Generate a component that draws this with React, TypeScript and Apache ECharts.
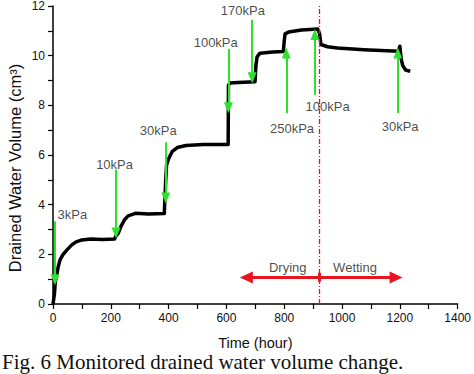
import React, { useEffect, useRef } from "react";
import * as echarts from "echarts";

// Curve: time (hour) and drained water volume (cm^3)
const timeHours = [
  0, 5, 8, 12, 18, 25, 35, 50, 65, 80, 100, 130, 170, 213, 218, 226, 236, 248, 260, 285, 330, 385,
  390, 393, 400, 413, 430, 460, 520, 606, 607, 612, 640, 699, 702, 706, 716, 760, 797, 800, 803,
  815, 860, 916, 922, 927, 950, 984, 1076, 1195, 1200, 1202, 1205, 1210, 1220, 1236,
];
const volume = [
  0, 0.4, 0.9, 1.1, 1.5, 1.8, 2.0, 2.2, 2.38, 2.5, 2.58, 2.62, 2.6, 2.62, 2.75, 2.85, 3.15, 3.4,
  3.55, 3.65, 3.62, 3.64, 5.0, 5.6, 5.85, 6.15, 6.3, 6.38, 6.42, 6.42, 8.8, 8.9, 8.92, 8.95, 9.6,
  9.95, 10.1, 10.15, 10.17, 10.6, 10.88, 10.95, 11.03, 11.07, 10.9, 10.45, 10.36, 10.31, 10.24,
  10.18, 10.38, 10.15, 9.85, 9.6, 9.42, 9.37,
];

// Suction annotations (green arrows)
const annLabels = ["3kPa", "10kPa", "30kPa", "100kPa", "170kPa", "250kPa", "100kPa", "30kPa"];
const annX = [7, 218, 390, 607, 689, 807, 906, 1193];
const annFrom = [3.33, 5.41, 6.51, 10.27, 11.45, 7.69, 8.43, 7.69];
const annTo = [0.98, 2.86, 4.27, 7.9, 9.11, 10.11, 10.85, 10.11];
const annLabelX = [67, 213, 364, 563, 657, 827, 950, 1201];
const annLabelY = [3.62, 5.6, 6.97, 10.53, 11.8, 7.08, 7.96, 7.15];

// Drying / wetting
const boundaryTime = 921;
const phaseArrowY = 1.07;
const dryingEnd = 669;
const wettingEnd = 1187;
const phaseLabels = ["Drying", "Wetting"];
const phaseLabelX = [812, 1045];
const phaseLabelY = [1.48, 1.48];

const xTicks = { min: 0, max: 1400, interval: 200 };
const yTicks = { min: 0, max: 12, interval: 2 };

const xTitle = "Time (hour)";
const yTitle = "Drained Water Volume (cm³)";
const caption = "Fig. 6 Monitored drained water volume change.";

const GREEN = "#2fe02f";
const RED = "#e8141e";
const SANS = "Liberation Sans, Arial, sans-serif";

export default function App() {
  const ref = useRef<HTMLDivElement>(null);
  useEffect(() => {
    if (!ref.current) return;
    const chart = echarts.init(ref.current, null, { renderer: "svg" });
    const curve = timeHours.map((t, i) => [t, volume[i]]);
    const arrowLines = annX.map((x, i) => [
      { coord: [x, annFrom[i]] },
      { coord: [x, annTo[i]] },
    ]);
    const labelPts = annLabels.map((l, i) => [annLabelX[i], annLabelY[i], l]);
    const phasePts = phaseLabels.map((l, i) => [phaseLabelX[i], phaseLabelY[i], l]);

    const axisCommon = {
      axisLine: { show: true, lineStyle: { color: "#000", width: 1.5 } },
      axisTick: { show: true, inside: false, length: 5, lineStyle: { color: "#000", width: 1.2 } },
      minorTick: { show: true, splitNumber: 2, length: 5, lineStyle: { color: "#000", width: 1.2 } },
      splitLine: { show: false },
      axisLabel: {
        color: "#111",
        fontSize: 12,
        fontFamily: SANS,
        margin: 8,
        formatter: (v: number) => String(v),
      },
    };

    chart.setOption({
      animation: false,
      grid: { left: 53, right: 13, top: 6, bottom: 70, containLabel: false },
      xAxis: {
        type: "value",
        ...xTicks,
        ...axisCommon,
        name: xTitle,
        nameLocation: "middle",
        nameGap: 31,
        nameTextStyle: { color: "#111", fontFamily: SANS, fontSize: 14.5, verticalAlign: "top" },
      },
      yAxis: {
        type: "value",
        ...yTicks,
        ...axisCommon,
      },
      series: [
        {
          type: "line",
          data: curve,
          showSymbol: false,
          symbol: "none",
          lineStyle: { color: "#000", width: 3.5, join: "round" },
          z: 3,
          markLine: {
            silent: true,
            symbol: ["none", "triangle"],
            symbolSize: [9, 11],
            label: { show: false },
            lineStyle: { color: GREEN, width: 2, type: "solid" },
            data: arrowLines,
            z: 5,
          },
        },
        {
          type: "line",
          data: [],
          markLine: {
            silent: true,
            symbol: "none",
            label: { show: false },
            lineStyle: { color: RED, width: 1.3, type: [5, 2, 1, 2] },
            data: [{ xAxis: boundaryTime }],
          },
        },
        {
          type: "line",
          data: [],
          markLine: {
            silent: true,
            symbol: ["none", "triangle"],
            symbolSize: [12, 13],
            label: { show: false },
            lineStyle: { color: RED, width: 3, type: "solid" },
            data: [
              [{ coord: [boundaryTime, phaseArrowY] }, { coord: [dryingEnd, phaseArrowY] }],
              [{ coord: [boundaryTime, phaseArrowY] }, { coord: [wettingEnd, phaseArrowY] }],
              [
                { coord: [boundaryTime, phaseArrowY - 0.17], symbol: "none" },
                { coord: [boundaryTime, phaseArrowY + 0.19], symbol: "none" },
              ],
            ],
          },
        },
        {
          type: "scatter",
          data: labelPts,
          symbolSize: 0,
          silent: true,
          label: {
            show: true,
            position: "inside",
            formatter: (p: any) => p.data[2],
            color: "#1a1a1a",
            fontFamily: SANS,
            fontSize: 13,
          },
          z: 6,
        },
        {
          type: "scatter",
          data: phasePts,
          symbolSize: 0,
          silent: true,
          label: {
            show: true,
            position: "inside",
            formatter: (p: any) => p.data[2],
            color: "#1a1a1a",
            fontFamily: SANS,
            fontSize: 13,
          },
          z: 6,
        },
      ],
      graphic: [
        {
          type: "text",
          x: 15,
          y: 168,
          rotation: Math.PI / 2,
          style: {
            text: yTitle,
            fontFamily: SANS,
            fontSize: 16.5,
            fill: "#111",
            align: "center",
            verticalAlign: "middle",
          },
        },
        {
          type: "text",
          x: 2,
          y: 351,
          style: {
            text: caption,
            fontFamily: "Liberation Serif, Times New Roman, serif",
            fontSize: 21,
            fill: "#111",
            verticalAlign: "top",
          },
        },
      ],
    });
    return () => chart.dispose();
  }, []);
  return (
    <div
      ref={ref}
      style={{ position: "fixed", left: 0, top: 0, width: 474, height: 374, background: "#fff" }}
    />
  );
}
